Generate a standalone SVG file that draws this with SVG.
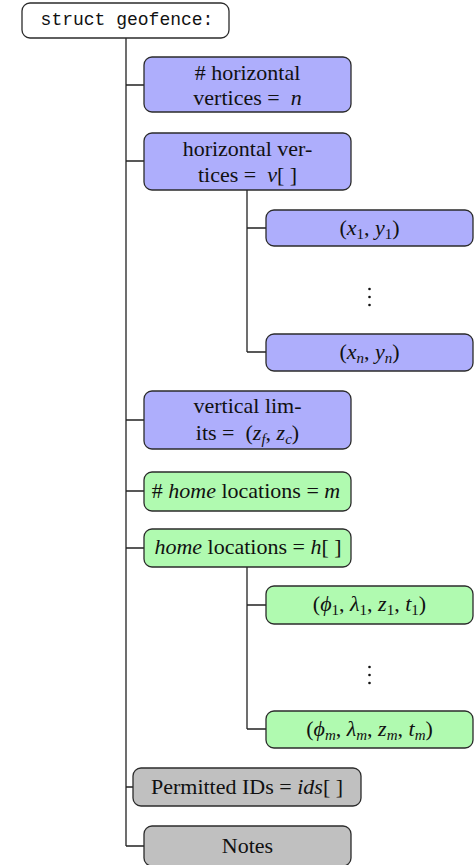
<svg xmlns="http://www.w3.org/2000/svg" width="474" height="865" viewBox="0 0 474 865">
<style>
.n{stroke:#2b2b2b;stroke-width:1.3}
.b{fill:#aeaefc}
.g{fill:#b0fab0}
.y{fill:#c0c0c0}
.w{fill:#ffffff}
.t{font-family:"Liberation Serif",serif;font-size:22px;fill:#111;text-anchor:middle;white-space:pre}
.m{font-family:"Liberation Mono",monospace;font-size:18px;fill:#111;text-anchor:middle;white-space:pre}
.c{stroke:#222;stroke-width:1.3;fill:none}
.s{font-size:15px}
.i{font-style:italic}
</style>
<g id="connectors">
<path class="c" d="M126 38V846M126 85H144M126 161H144M126 420H144M126 491H144M126 548H144M126 787H133M126 846H144"/>
<path class="c" d="M247 190V352M247 228H266M247 352H266"/>
<path class="c" d="M247 567V729M247 605H266M247 729H266"/>
</g>
<g id="root"><rect class="n w" x="22" y="3" width="207" height="35" rx="8"/><text class="m" x="127" y="25">struct geofence:</text></g>
<g id="n_hv"><rect class="n b" x="144" y="57" width="207" height="55" rx="8"/><text class="t" x="247.5" y="80"># horizontal</text><text class="t" x="247.5" y="105" xml:space="preserve">vertices =  <tspan class="i">n</tspan></text></g>
<g id="hv"><rect class="n b" x="144" y="133" width="207" height="57" rx="8"/><text class="t" x="247.5" y="156">horizontal ver-</text><text class="t" x="247.5" y="182" xml:space="preserve">tices =  <tspan class="i">v</tspan>[ ]</text></g>
<g id="x1"><rect class="n b" x="266" y="210" width="207" height="36" rx="8"/><text class="t" x="369.5" y="235">(<tspan class="i">x</tspan><tspan class="s" dy="4">1</tspan><tspan dy="-4">, </tspan><tspan class="i">y</tspan><tspan class="s" dy="4">1</tspan><tspan dy="-4">)</tspan></text></g>
<g id="vdots1"><circle cx="369.5" cy="289" r="1.3" fill="#111"/><circle cx="369.5" cy="297" r="1.3" fill="#111"/><circle cx="369.5" cy="305" r="1.3" fill="#111"/></g>
<g id="xn"><rect class="n b" x="266" y="334" width="207" height="37" rx="8"/><text class="t" x="369.5" y="359">(<tspan class="i">x</tspan><tspan class="s i" dy="4">n</tspan><tspan dy="-4">, </tspan><tspan class="i">y</tspan><tspan class="s i" dy="4">n</tspan><tspan dy="-4">)</tspan></text></g>
<g id="vl"><rect class="n b" x="144" y="391" width="207" height="58" rx="8"/><text class="t" x="247.5" y="413">vertical lim-</text><text class="t" x="247.5" y="440" xml:space="preserve">its =  (<tspan class="i">z</tspan><tspan class="s i" dy="4">f</tspan><tspan dy="-4">, </tspan><tspan class="i">z</tspan><tspan class="s i" dy="4">c</tspan><tspan dy="-4">)</tspan></text></g>
<g id="hm"><rect class="n g" x="144" y="472" width="207" height="39" rx="8"/><text class="t" x="246" y="498"># <tspan class="i">home</tspan> locations = <tspan class="i">m</tspan></text></g>
<g id="hl"><rect class="n g" x="144" y="529" width="207" height="38" rx="8"/><text class="t" x="248" y="554"><tspan class="i">home</tspan> locations = <tspan class="i">h</tspan>[ ]</text></g>
<g id="p1"><rect class="n g" x="266" y="586" width="207" height="38" rx="8"/><text class="t" x="369.5" y="611">(<tspan class="i">ϕ</tspan><tspan class="s" dy="4">1</tspan><tspan dy="-4">, </tspan><tspan class="i">λ</tspan><tspan class="s" dy="4">1</tspan><tspan dy="-4">, </tspan><tspan class="i">z</tspan><tspan class="s" dy="4">1</tspan><tspan dy="-4">, </tspan><tspan class="i">t</tspan><tspan class="s" dy="4">1</tspan><tspan dy="-4">)</tspan></text></g>
<g id="vdots2"><circle cx="369.5" cy="667" r="1.3" fill="#111"/><circle cx="369.5" cy="675" r="1.3" fill="#111"/><circle cx="369.5" cy="683" r="1.3" fill="#111"/></g>
<g id="pm"><rect class="n g" x="266" y="711" width="207" height="37" rx="8"/><text class="t" x="369.5" y="736">(<tspan class="i">ϕ</tspan><tspan class="s i" dy="4">m</tspan><tspan dy="-4">, </tspan><tspan class="i">λ</tspan><tspan class="s i" dy="4">m</tspan><tspan dy="-4">, </tspan><tspan class="i">z</tspan><tspan class="s i" dy="4">m</tspan><tspan dy="-4">, </tspan><tspan class="i">t</tspan><tspan class="s i" dy="4">m</tspan><tspan dy="-4">)</tspan></text></g>
<g id="ids"><rect class="n y" x="133" y="768" width="228" height="38" rx="8"/><text class="t" x="247" y="794">Permitted IDs = <tspan class="i">ids</tspan>[ ]</text></g>
<g id="notes"><rect class="n y" x="144" y="826" width="207" height="40" rx="8"/><text class="t" x="247.5" y="853">Notes</text></g>
</svg>
